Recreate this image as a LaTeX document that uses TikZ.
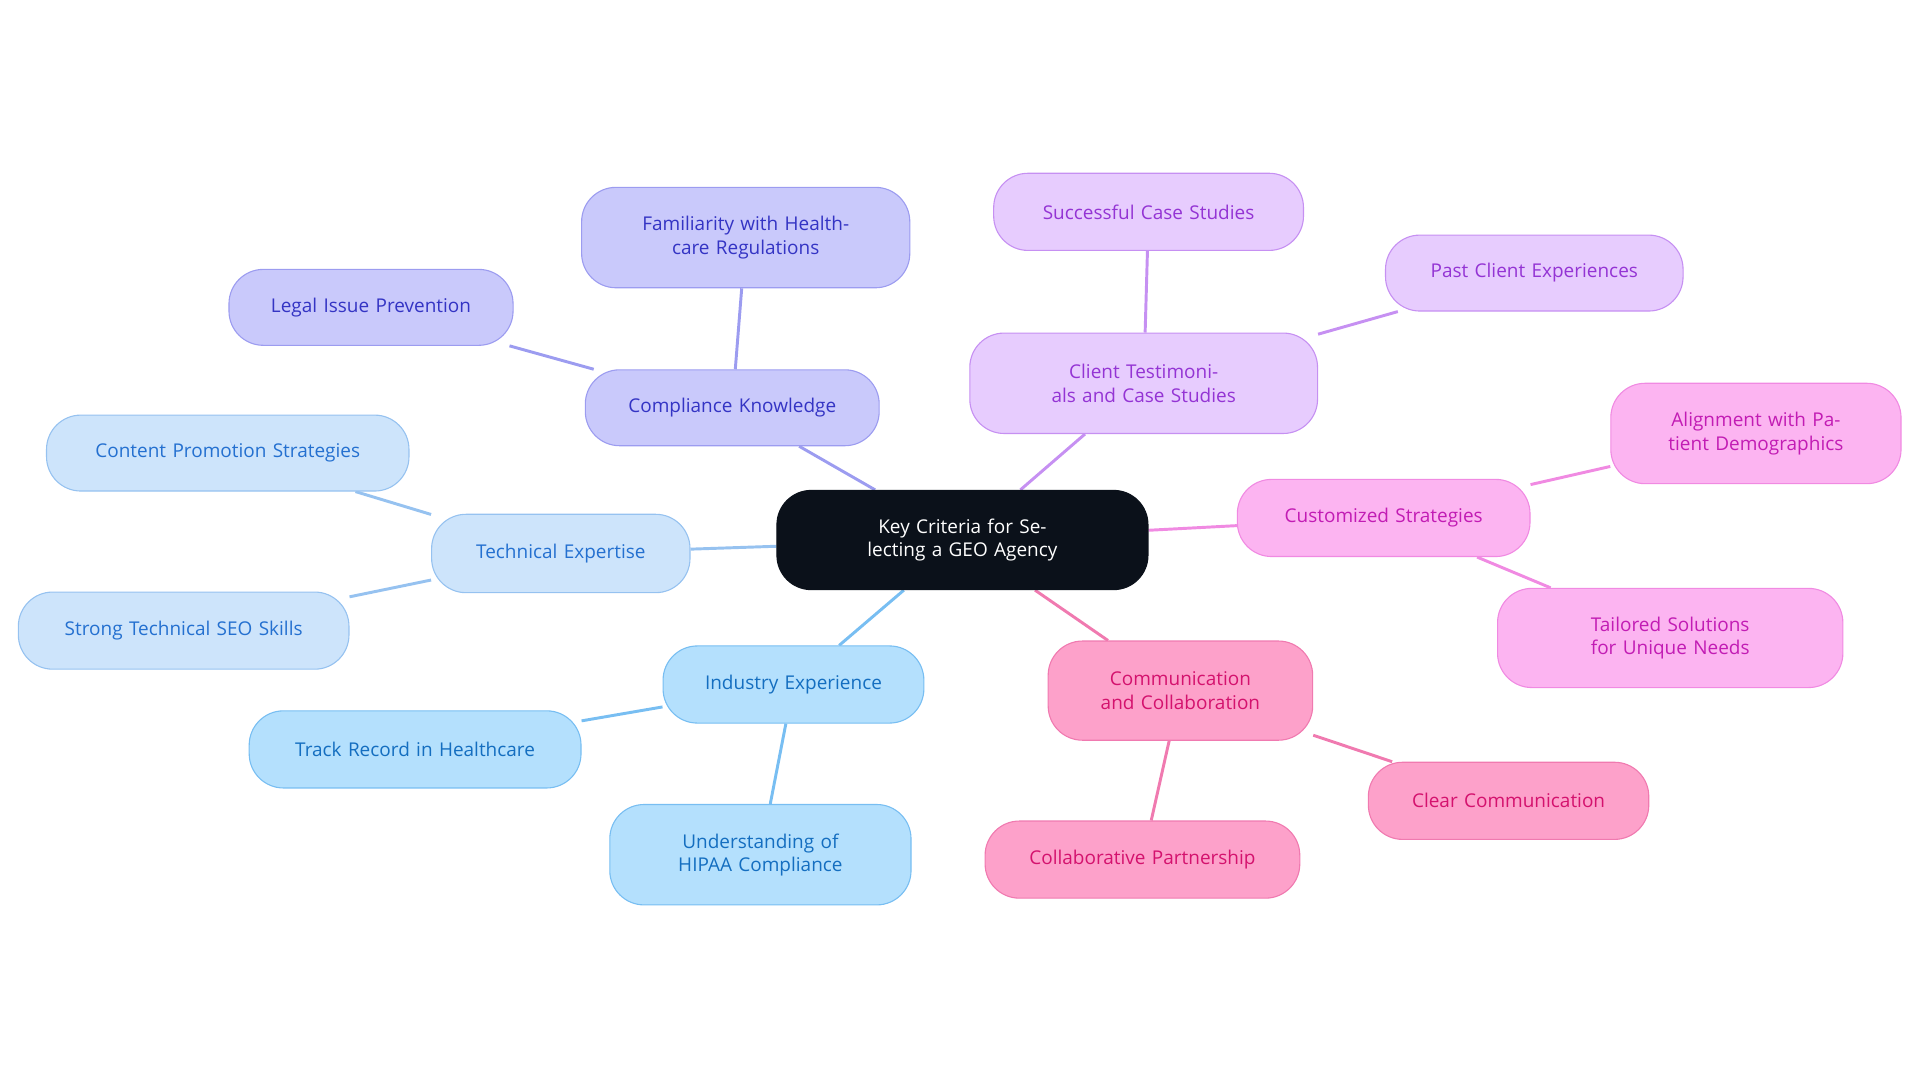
\documentclass[tikz,border=0pt]{standalone}
\usepackage{fontspec}
\setmainfont{Open Sans}
\usetikzlibrary{backgrounds}
\definecolor{rootc}{HTML}{0B111A}
\definecolor{cbF}{HTML}{C9C9FB}\definecolor{cbD}{HTML}{9C9CF0}\definecolor{cbT}{HTML}{3434C4}
\definecolor{ctF}{HTML}{E7CCFE}\definecolor{ctD}{HTML}{C690F2}\definecolor{ctT}{HTML}{9434D4}
\definecolor{csF}{HTML}{FCB4F1}\definecolor{csD}{HTML}{F08AE2}\definecolor{csT}{HTML}{C21CB4}
\definecolor{ccF}{HTML}{FDA1CA}\definecolor{ccD}{HTML}{F07AB0}\definecolor{ccT}{HTML}{D4126E}
\definecolor{ieF}{HTML}{B4E0FD}\definecolor{ieD}{HTML}{78BEF2}\definecolor{ieT}{HTML}{146EC0}
\definecolor{teF}{HTML}{CDE4FB}\definecolor{teD}{HTML}{96C2F0}\definecolor{teT}{HTML}{2470D0}
\tikzset{
 x=1pt,y=-1pt,
 box/.style={rounded corners=28pt,line width=0.9pt,align=center,font=\fontsize{15.5}{19}\selectfont,inner sep=0pt},
 bx/.style 2 args={box,minimum width=#1,minimum height=#2,text width=#1-40},
 cb/.style={box,fill=cbF,draw=cbD,text=cbT},
 ct/.style={box,fill=ctF,draw=ctD,text=ctT},
 cs/.style={box,fill=csF,draw=csD,text=csT},
 cc/.style={box,fill=ccF,draw=ccD,text=ccT},
 ie/.style={box,fill=ieF,draw=ieD,text=ieT},
 te/.style={box,fill=teF,draw=teD,text=teT},
 lk/.style={line width=2.4pt}
}
\begin{document}
\begin{tikzpicture}
\useasboundingbox (0,0) rectangle (1568,884);
\node[box,fill=rootc,draw=rootc,text=white,bx={303}{81}] (root) at (786,441) {Key Criteria for Selecting a GEO Agency};
\node[cb,bx={240}{62}] (ck) at (598,333) {Compliance Knowledge};
\node[cb,bx={268}{82}] (fh) at (609,194) {Familiarity with Healthcare Regulations};
\node[cb,bx={232}{62}] (lp) at (303,251) {Legal Issue Prevention};
\node[ct,bx={284}{82}] (tc) at (934,313) {Client Testimonials and Case Studies};
\node[ct,bx={253}{63}] (sc) at (938,173) {Successful Case Studies};
\node[ct,bx={243}{62}] (pc) at (1253,223) {Past Client Experiences};
\node[cs,bx={239}{63}] (cu) at (1130,423) {Customized Strategies};
\node[cs,bx={237}{82}] (al) at (1434,354) {Alignment with Patient Demographics};
\node[cs,bx={282}{81}] (ts) at (1364,521) {Tailored Solutions for Unique Needs};
\node[cc,bx={216}{81}] (cm) at (964,564) {Communication and Collaboration};
\node[cc,bx={229}{63}] (cl) at (1232,654) {Clear Communication};
\node[cc,bx={257}{63}] (cp) at (933,702) {Collaborative Partnership};
\node[ie,bx={213}{63}] (ie) at (648,559) {Industry Experience};
\node[ie,bx={271}{63}] (tr) at (339,612) {Track Record in Healthcare};
\node[ie,bx={246}{82}] (uh) at (621,698) {Understanding of HIPAA Compliance};
\node[te,bx={211}{64}] (te) at (458,452) {Technical Expertise};
\node[te,bx={296}{62}] (cpr) at (186,370) {Content Promotion Strategies};
\node[te,bx={270}{63}] (st) at (150,515) {Strong Technical SEO Skills};
\begin{scope}[on background layer]
\draw[lk,cbD] (root)--(ck) (ck)--(fh) (ck)--(lp);
\draw[lk,ctD] (root)--(tc) (tc)--(sc) (tc)--(pc);
\draw[lk,csD] (root)--(cu) (cu)--(al) (cu)--(ts);
\draw[lk,ccD] (root)--(cm) (cm)--(cl) (cm)--(cp);
\draw[lk,ieD] (root)--(ie) (ie)--(tr) (ie)--(uh);
\draw[lk,teD] (root)--(te) (te)--(cpr) (te)--(st);
\end{scope}
\end{tikzpicture}
\end{document}
